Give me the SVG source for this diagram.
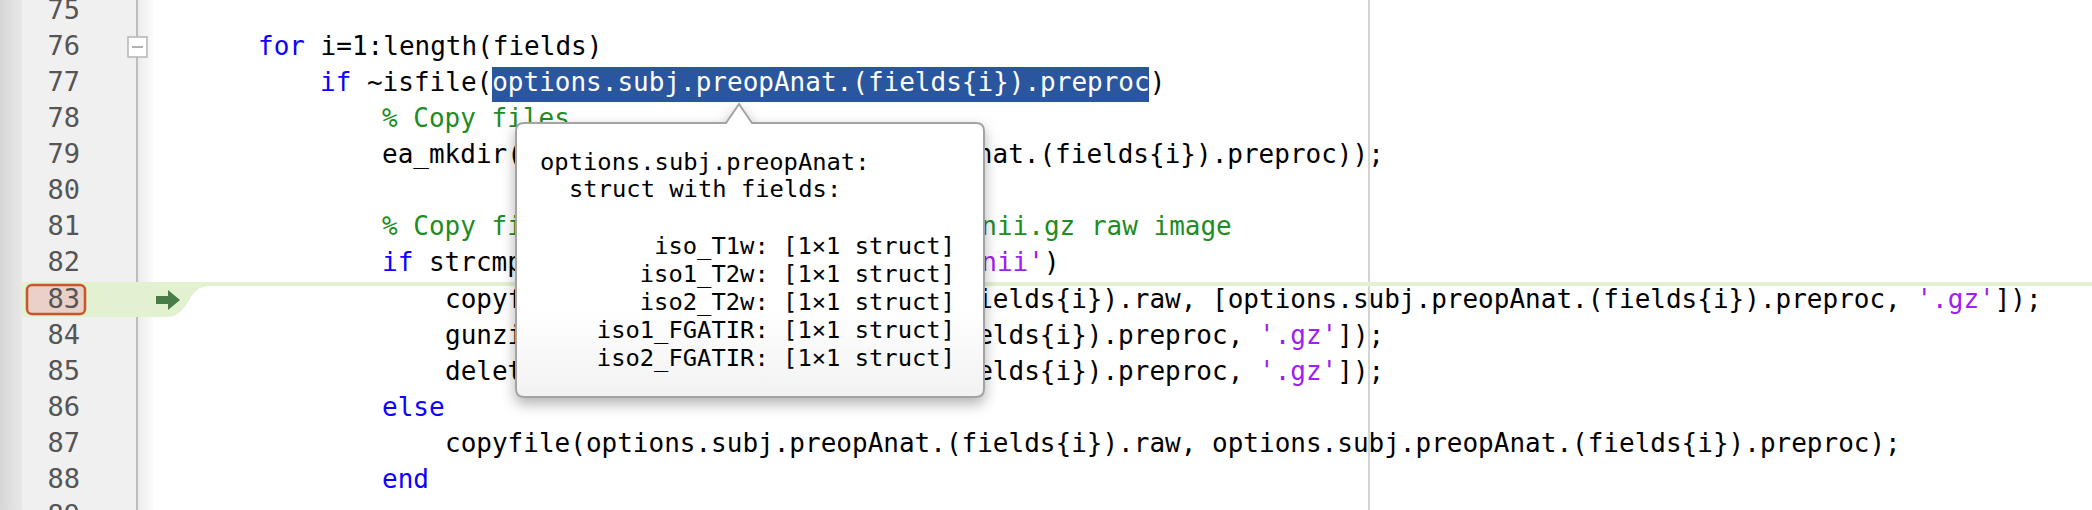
<svg xmlns="http://www.w3.org/2000/svg" width="2092" height="510" viewBox="0 0 2092 510">
<defs>
<style>
.c{font-family:"DejaVu Sans Mono",monospace;font-size:26px;fill:#000;white-space:pre}
.n{font-family:"DejaVu Sans Mono",monospace;font-size:27px;fill:#555;text-anchor:end}
.k{fill:#0e00ff}.g{fill:#228b22}.s{fill:#a020f0}
.t{font-family:"DejaVu Sans Mono",monospace;font-size:23.8px;fill:#000;white-space:pre}
</style>
<linearGradient id="gl" x1="0" x2="1"><stop offset="0" stop-color="#d6d6d6"/><stop offset="1" stop-color="#e8e8e8"/></linearGradient>
<linearGradient id="sh" x1="0" x2="1"><stop offset="0" stop-color="#ececec"/><stop offset="1" stop-color="#fbfbfb"/></linearGradient>
<linearGradient id="tb" x1="0" y1="0" x2="0" y2="1"><stop offset="0" stop-color="#ffffff"/><stop offset="0.7" stop-color="#ffffff"/><stop offset="1" stop-color="#f2f2f2"/></linearGradient>
<filter id="ds" x="-10%" y="-10%" width="120%" height="130%"><feDropShadow dx="0" dy="6" stdDeviation="7" flood-color="#000" flood-opacity="0.3"/></filter>
</defs>
<rect width="2092" height="510" fill="#fff"/>
<g id="gutter">
<rect x="0" y="0" width="22" height="510" fill="url(#gl)"/>
<rect x="22" y="0" width="115" height="510" fill="#f0f0f0"/>
<rect x="138" y="0" width="15" height="510" fill="url(#sh)"/>
<line x1="137" y1="0" x2="137" y2="510" stroke="#bdbdbd" stroke-width="2"/>
</g>
<line x1="1369" y1="0" x2="1369" y2="510" stroke="#d4d4d4" stroke-width="2"/>
<g id="current-line">
<path d="M22 282 H2092 V286 H210 C196 286 192 296 186 305 C180 313 176 317 166 317 H22 Z" fill="#e2f2d0"/>
<rect x="27" y="285" width="58" height="29" rx="5" fill="#e9d0c8" stroke="#c8552e" stroke-width="2.5"/>
<path d="M156 296 H168 V290 L180 300 L168 310 V304 H156 Z" fill="#4a7c4a"/>
</g>
<g id="fold"><rect x="128" y="37" width="19" height="20" fill="#fff" stroke="#b5b5b5" stroke-width="1.5"/><line x1="132" y1="47" x2="143" y2="47" stroke="#999" stroke-width="1.5"/></g>
<g id="line-numbers">
<text class="n" x="80" y="19">75</text><text class="n" x="80" y="55">76</text><text class="n" x="80" y="91">77</text><text class="n" x="80" y="127">78</text><text class="n" x="80" y="163">79</text><text class="n" x="80" y="199">80</text><text class="n" x="80" y="235">81</text><text class="n" x="80" y="271">82</text><text class="n" x="80" y="308">83</text><text class="n" x="80" y="344">84</text><text class="n" x="80" y="380">85</text><text class="n" x="80" y="416">86</text><text class="n" x="80" y="452">87</text><text class="n" x="80" y="488">88</text><text class="n" x="80" y="524">89</text>
</g>
<rect id="selection" x="492" y="67" width="657" height="35" fill="#2a56a0"/>
<g id="code">
<text class="c" x="258" y="55"><tspan class="k">for</tspan> i=1:length(fields)</text>
<text class="c" x="320" y="91"><tspan class="k">if</tspan> ~isfile(<tspan fill="#fff">options.subj.preopAnat.(fields{i}).preproc</tspan>)</text>
<text class="c g" x="382" y="127">% Copy files</text>
<text class="c" x="382" y="163">ea_mkdir(fileparts(options.subj.preopAnat.(fields{i}).preproc));</text>
<text class="c g" x="382" y="235">% Copy files<tspan x="950">a.nii.gz raw image</tspan></text>
<text class="c" x="382" y="271"><tspan class="k">if</tspan> strcmp(<tspan class="s" x="950">'.nii'</tspan>)</text>
<text class="c" x="445" y="308">copyfile(options.subj.preopAnat.(fields{i}).raw, [options.subj.preopAnat.(fields{i}).preproc, <tspan class="s">'.gz'</tspan>]);</text>
<text class="c" x="445" y="344">gunzip([options.subj.preopAnat.(fields{i}).preproc, <tspan class="s">'.gz'</tspan>]);</text>
<text class="c" x="445" y="380">delete([options.subj.preopAnat.(fields{i}).preproc, <tspan class="s">'.gz'</tspan>]);</text>
<text class="c k" x="382" y="416">else</text>
<text class="c" x="445" y="452">copyfile(options.subj.preopAnat.(fields{i}).raw, options.subj.preopAnat.(fields{i}).preproc);</text>
<text class="c k" x="382" y="488">end</text>
</g>
<g id="tooltip">
<path d="M524 123 H726 L739 104 L752 123 H976 Q984 123 984 131 V389 Q984 397 976 397 H524 Q516 397 516 389 V131 Q516 123 524 123 Z" fill="url(#tb)" stroke="#a3a3a3" stroke-width="2" filter="url(#ds)"/>
<text class="t" x="540" y="170">options.subj.preopAnat:</text>
<text class="t" x="569" y="197">struct with fields:</text>
<g text-anchor="end">
<text class="t" x="955" y="254">iso_T1w: [1×1 struct]</text>
<text class="t" x="955" y="282">iso1_T2w: [1×1 struct]</text>
<text class="t" x="955" y="310">iso2_T2w: [1×1 struct]</text>
<text class="t" x="955" y="338">iso1_FGATIR: [1×1 struct]</text>
<text class="t" x="955" y="366">iso2_FGATIR: [1×1 struct]</text>
</g>
</g>
</svg>
